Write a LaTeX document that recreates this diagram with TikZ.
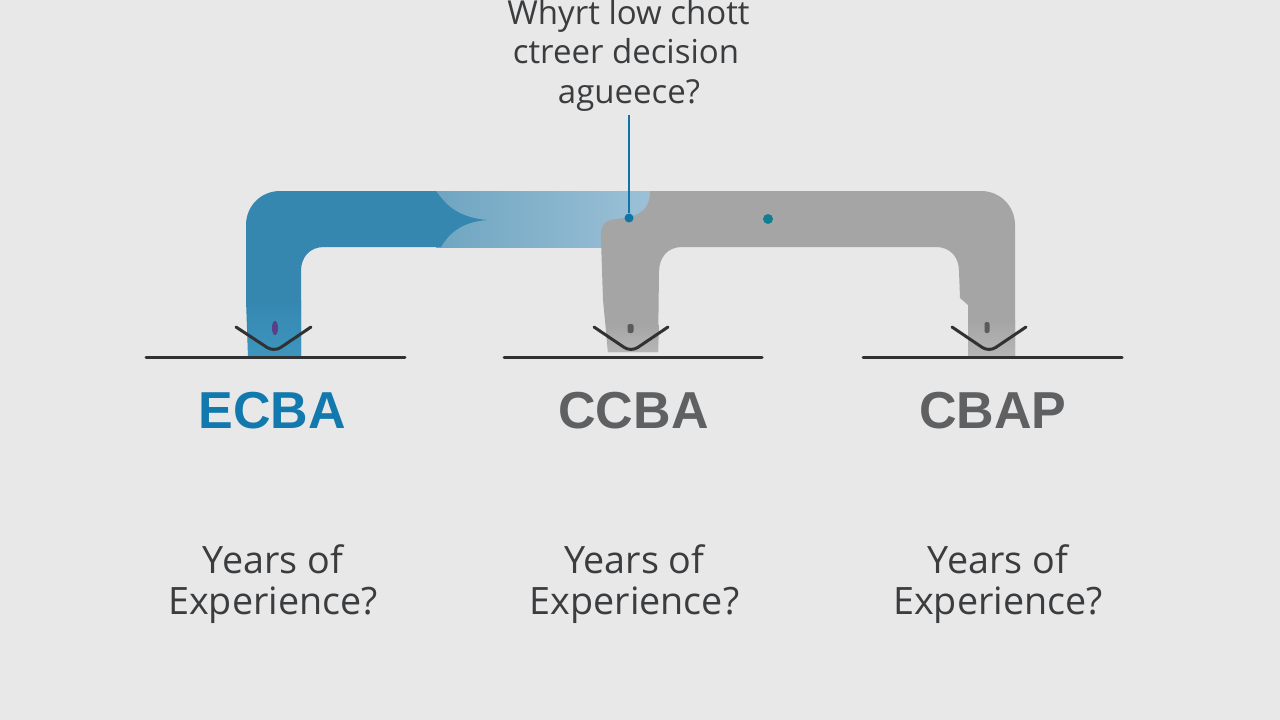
\documentclass[tikz,border=0pt]{standalone}
\usepackage{fontspec}
\setmainfont{Open Sans}
\newfontfamily\headfont{Liberation Sans}
\usetikzlibrary{calc}
\definecolor{bgc}{HTML}{E8E8E9}
\definecolor{bluedark}{HTML}{3587B0}
\definecolor{bluefoot}{HTML}{3D95BE}
\definecolor{fadeL}{HTML}{6FA5C1}
\definecolor{fadeR}{HTML}{9CC1D7}
\definecolor{greyarm}{HTML}{A5A5A6}
\definecolor{greyfoot}{HTML}{B6B6B7}
\definecolor{inkc}{HTML}{2F3133}
\definecolor{textink}{HTML}{3A3C3E}
\definecolor{headblue}{HTML}{1279AE}
\definecolor{headgrey}{HTML}{5F6062}
\definecolor{pinblue}{HTML}{0F74A6}
\definecolor{pinteal}{HTML}{0F7F91}
\definecolor{legmark}{HTML}{5A3F86}
\definecolor{greymark}{HTML}{5A5A5C}
\tikzset{
  x=1pt,y=-1pt,
  shelf/.style={draw=inkc,line width=3pt,line cap=round},
  tick/.style={draw=inkc,line width=3pt,line cap=round,line join=round,rounded corners=8pt},
  head/.style={font=\headfont\bfseries\fontsize{52}{52}\selectfont,inner sep=0pt,anchor=base},
  bodytext/.style={font=\fontsize{37.7}{37.7}\selectfont,text=textink,inner sep=0pt,anchor=base},
  toptext/.style={font=\fontsize{33}{33}\selectfont,text=textink,inner sep=0pt,anchor=base}
}
\begin{document}
\begin{tikzpicture}
\useasboundingbox (0,0) rectangle (1280,720);
\fill[bgc] (0,0) rectangle (1280,720);
% blue fade section
\shade[left color=fadeL,right color=fadeR] (436,191) rectangle (652,247);
% blue arm and leg
\fill[bluedark] (248,357) -- (246,300) -- (246,225) .. controls (246,206) and (261,191) .. (280,191)
  -- (436,191) .. controls (445,203) and (455,217) .. (487,220)
  .. controls (460,222) and (448,235) .. (441,247)
  -- (324,247) .. controls (310,247) and (301,257) .. (301,271) -- (301,357) -- cycle;
\shade[top color=bluedark,bottom color=bluefoot] (248,300) rectangle (301,357);
% grey structure
\fill[greyarm] (650,191) -- (981,191) .. controls (1000,191) and (1015,206) .. (1015,225)
  -- (1015,357) -- (968,357) -- (968,305) -- (960,298) -- (959,271)
  .. controls (959,257) and (950,247) .. (936,247)
  -- (682,247) .. controls (668,247) and (659,257) .. (659,272)
  -- (658,352) -- (608,352) -- (603,300) -- (601,240)
  .. controls (600,226) and (604,220) .. (616,219)
  .. controls (632,217) and (650,215) .. (650,191) -- cycle;
\shade[top color=greyarm,bottom color=greyfoot] (606.5,325) -- (659,325) -- (658,352) -- (608,352) -- cycle;
\shade[top color=greyarm,bottom color=greyfoot] (968,320) rectangle (1015,357);
% small marks in the legs
\fill[legmark] (275,328) ellipse (3 and 7);
\fill[greymark,rounded corners=2pt] (627.5,324) rectangle (633.5,333);
\fill[greymark,rounded corners=2pt] (984.5,322) rectangle (989.5,333);
% shelves
\coordinate (s1a) at (146,357); \coordinate (s1b) at (405,357);
\coordinate (s2a) at (504,357); \coordinate (s2b) at (762,357);
\coordinate (s3a) at (863,357); \coordinate (s3b) at (1122,357);
\draw[shelf] (s1a) -- (s1b);
\draw[shelf] (s2a) -- (s2b);
\draw[shelf] (s3a) -- (s3b);
% ticks
\draw[tick] (236,327) -- (274,352) -- (311,327);
\draw[tick] (594,327) -- (631,352) -- (668,327);
\draw[tick] (952,327) -- (989,352) -- (1026,327);
% pin and dots
\coordinate (pintop) at (629,115);
\node[circle,fill=pinblue,inner sep=0pt,minimum size=9pt] (pinA) at (629,218) {};
\draw[pinblue,line width=2.2pt] (pintop) -- (pinA);
\node[circle,fill=pinteal,inner sep=0pt,minimum size=10pt] (pinB) at (768,219) {};
% headings
\node[head,text=headblue] (h1) at (272,428) {ECBA};
\node[head,text=headgrey] (h2) at (633.5,428) {CCBA};
\node[head,text=headgrey] (h3) at (993,428) {CBAP};
% bodies
\node[bodytext] (y1) at (273,573) {Years of};
\node[bodytext] (e1) at (273,614) {Experience?};
\node[bodytext] (y2) at (634.5,573) {Years of};
\node[bodytext] (e2) at (634.5,614) {Experience?};
\node[bodytext] (y3) at (998,573) {Years of};
\node[bodytext] (e3) at (998,614) {Experience?};
% top
\node[toptext] (t1) at (628.5,24) {Whyrt low chott};
\node[toptext] (t2) at (626,63) {ctreer decision};
\node[toptext] (t3) at (629,103) {agueece?};
\end{tikzpicture}
\end{document}
